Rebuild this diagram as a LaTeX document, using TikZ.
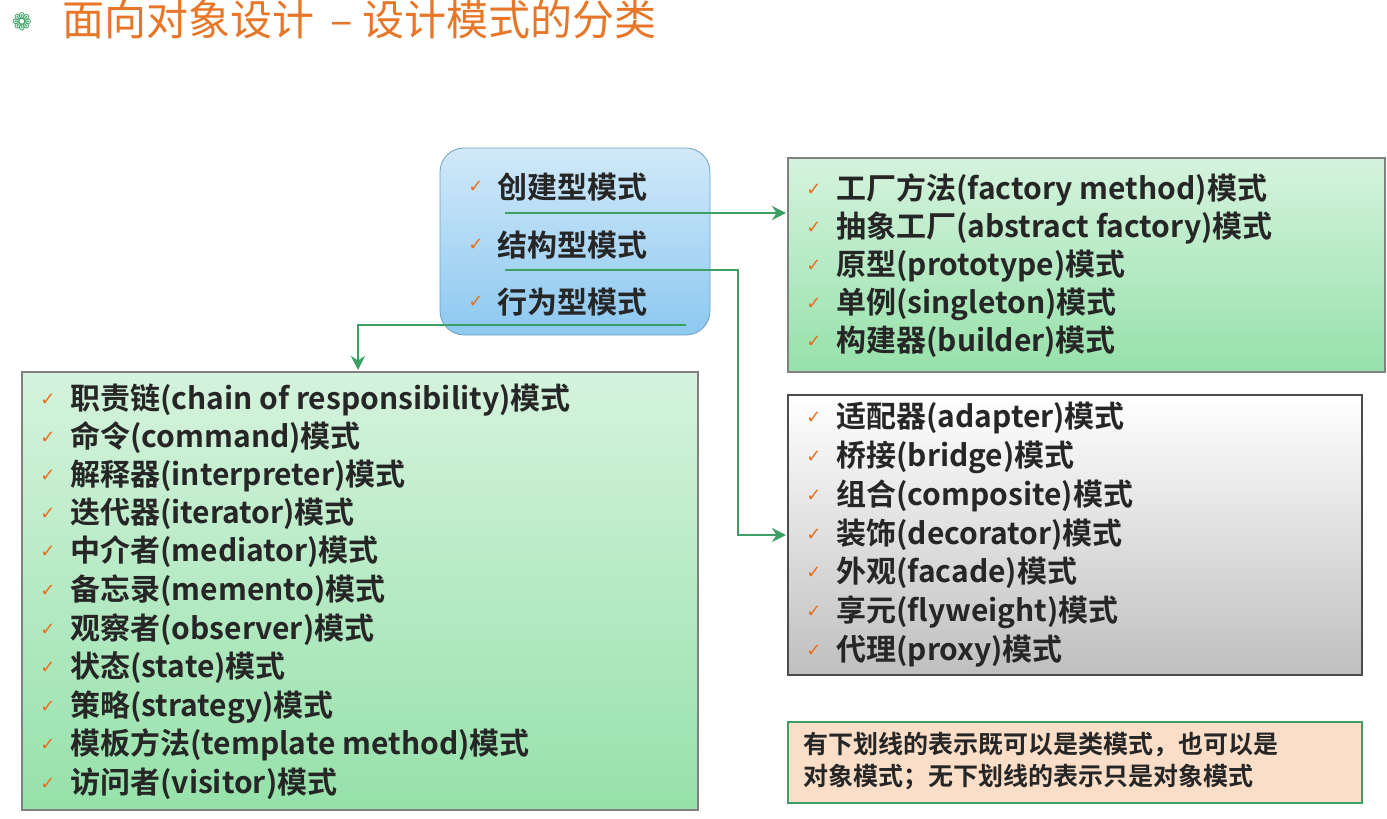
\documentclass[tikz,border=0pt]{standalone}
\usepackage{fontspec}
\setmainfont{Noto Sans CJK SC}[BoldFont={Noto Sans CJK SC Bold}]
\newfontfamily\symfont{DejaVu Sans}
\usetikzlibrary{positioning,arrows.meta}
\definecolor{titleorange}{RGB}{232,118,40}
\definecolor{tickorange}{RGB}{230,110,30}
\definecolor{linkgreen}{RGB}{60,160,100}
\definecolor{boxgreen}{RGB}{150,225,170}
\definecolor{boxblue}{RGB}{140,200,240}
\definecolor{notepeach}{RGB}{250,222,200}
\newcommand{\tick}{{\symfont\textcolor{tickorange}{\small ✓}}}

\begin{document}
\begin{tikzpicture}[x=0.5pt, y=-0.5pt]
    \tikzstyle{itemtext}=[anchor=west,inner sep=0pt,font=\bfseries\fontsize{15}{15}\selectfont,text=black!85]
    \tikzstyle{tickmark}=[anchor=west,inner sep=0pt]
    \tikzstyle{link}=[draw=linkgreen,line width=1.3pt,-{Stealth[length=7pt,width=7pt]}]
    \useasboundingbox (0,0) rectangle (1387,819);

    % title
    \node[text=linkgreen,font=\symfont\large] (gear) at (22,22) {❁};
    \node[anchor=west,text=titleorange,font=\fontsize{21}{21}\selectfont] (title) at (55,20) {面向对象设计 \,– 设计模式的分类};

    % boxes
    \draw[draw=boxblue!80!black,top color=boxblue!40,bottom color=boxblue,rounded corners=12pt] (440,148) rectangle (710,335);
    \draw[draw=black!50,top color=boxgreen!40,bottom color=boxgreen,line width=0.8pt] (788,158) rectangle (1385,372);
    \draw[draw=black!70,top color=white,bottom color=black!25,line width=0.8pt] (788,395) rectangle (1362,675);
    \draw[draw=black!50,top color=boxgreen!40,bottom color=boxgreen,line width=0.8pt] (22,372) rectangle (698,810);
    \draw[draw=linkgreen,fill=notepeach,line width=1pt] (788,722) rectangle (1362,803);

    % categories
    \foreach \name/\yy/\txt in {cre/187/创建型模式, str/245/结构型模式, beh/302/行为型模式} {
        \node[tickmark] at (468,\yy) {\tick};
        \node[itemtext] (\name) at (497,\yy) {\txt};
    }

    % creational
    \foreach \yy/\txt [count=\i] in {190/工厂方法(factory method)模式, 228/抽象工厂(abstract factory)模式,
        266/原型(prototype)模式, 304/单例(singleton)模式, 342/构建器(builder)模式} {
        \node[tickmark] at (806,\yy) {\tick};
        \node[itemtext] (c\i) at (836,\yy) {\txt};
    }

    % structural
    \foreach \yy/\txt [count=\i] in {418/适配器(adapter)模式, 457/桥接(bridge)模式, 496/组合(composite)模式,
        535/装饰(decorator)模式, 573/外观(facade)模式, 612/享元(flyweight)模式, 651/代理(proxy)模式} {
        \node[tickmark] at (806,\yy) {\tick};
        \node[itemtext] (s\i) at (836,\yy) {\txt};
    }

    % behavioral
    \foreach \yy/\txt [count=\i] in {400/职责链(chain of responsibility)模式, 438/命令(command)模式,
        476/解释器(interpreter)模式, 514/迭代器(iterator)模式, 552/中介者(mediator)模式,
        591/备忘录(memento)模式, 630/观察者(observer)模式, 668/状态(state)模式,
        707/策略(strategy)模式, 745/模板方法(template method)模式, 784/访问者(visitor)模式} {
        \node[tickmark] at (40,\yy) {\tick};
        \node[itemtext] (b\i) at (70,\yy) {\txt};
    }

    % note
    \node[anchor=north west,align=left,inner sep=0pt,font=\bfseries\fontsize{12.5}{16}\selectfont,text=black!85] (note) at (803,732)
        {有下划线的表示既可以是类模式，也可以是\\对象模式；无下划线的表示只是对象模式};

    % links
    \coordinate (creout) at (505,213);
    \coordinate (crein) at (786,213);
    \coordinate (strout) at (505,270);
    \coordinate (strin) at (786,535);
    \coordinate (behout) at (686,325);
    \coordinate (behin) at (358,370);
    \draw[link] (creout) -- (crein);
    \draw[link] (strout) -| (738,535) -- (strin);
    \draw[link] (behout) -| (behin);
\end{tikzpicture}
\end{document}
